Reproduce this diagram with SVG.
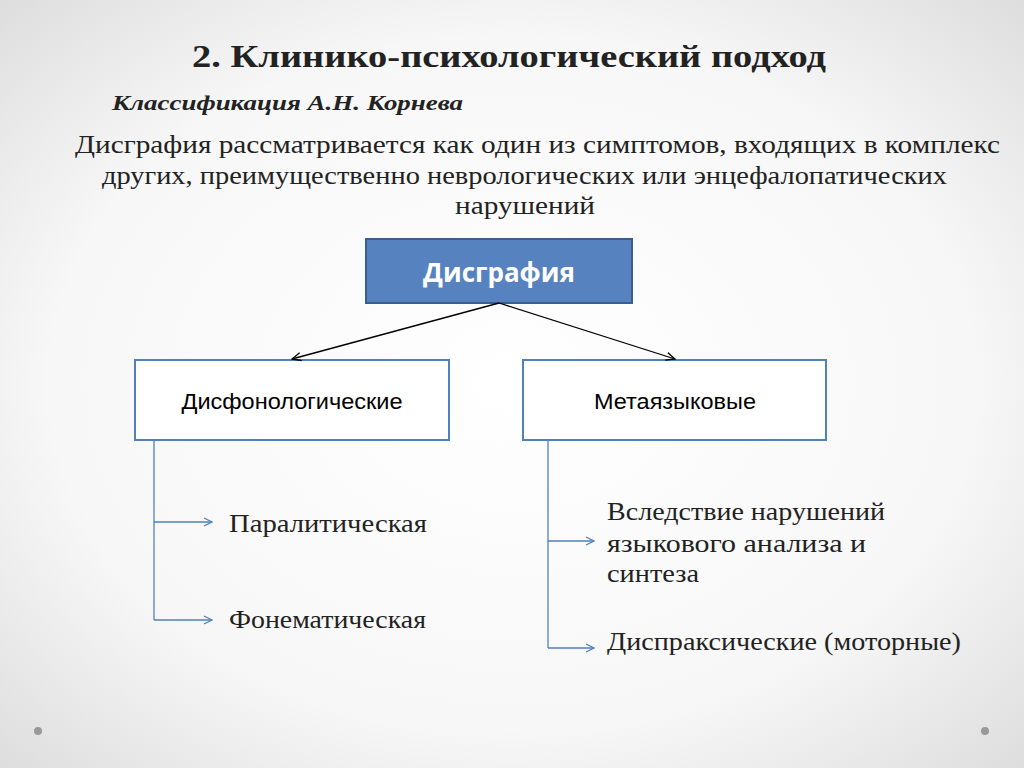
<svg xmlns="http://www.w3.org/2000/svg" width="1024" height="768" viewBox="0 0 1024 768">
<defs>
<radialGradient id="bg" cx="0.5" cy="0.5" r="0.75"><stop offset="0" stop-color="#ffffff"/><stop offset="0.6" stop-color="#f7f7f7"/><stop offset="1" stop-color="#d9d9d9"/></radialGradient>
<marker id="ab" markerWidth="10" markerHeight="10" refX="9" refY="5" orient="auto" markerUnits="userSpaceOnUse"><path d="M0,1 L9,5 L0,9" fill="none" stroke="#000" stroke-width="1.3"/></marker>
<marker id="abl" markerWidth="10" markerHeight="10" refX="9" refY="5" orient="auto" markerUnits="userSpaceOnUse"><path d="M1,1 L9,5 L1,9" fill="none" stroke="#4f81bd" stroke-width="1.3"/></marker>
</defs>
<style>
.ser{font-family:"Liberation Serif",serif;fill:#222}
.box{fill:#fff;stroke:#4f81bd;stroke-width:2}
.lbl{font-family:"Liberation Sans",sans-serif;font-size:22px;fill:#000;text-anchor:middle}
.bl{stroke:#4f81bd;stroke-width:1.3;fill:none}
</style>
<rect width="1024" height="768" fill="url(#bg)"/>
<g fill="#999"><circle cx="38" cy="731" r="4"/><circle cx="985" cy="731" r="4"/></g>
<text class="ser" x="192" y="67" font-size="32" font-weight="bold" textLength="634" lengthAdjust="spacingAndGlyphs">2. Клинико-психологический подход</text>
<text class="ser" x="112" y="110" font-size="22" font-weight="bold" font-style="italic" textLength="351" lengthAdjust="spacingAndGlyphs">Классификация А.Н. Корнева</text>
<g class="ser" font-size="25">
<text x="75" y="153" textLength="925" lengthAdjust="spacingAndGlyphs">Дисграфия рассматривается как один из симптомов, входящих в комплекс</text>
<text x="102" y="184" textLength="845" lengthAdjust="spacingAndGlyphs">других, преимущественно неврологических или энцефалопатических</text>
<text x="455" y="214" textLength="140" lengthAdjust="spacingAndGlyphs">нарушений</text>
</g>
<g id="n-root"><rect x="366" y="239" width="266" height="64" fill="#5683c0" stroke="#3a5f8f" stroke-width="2"/><text x="499" y="282" font-family="'Open Sans','Liberation Sans',sans-serif" font-weight="bold" font-size="26" fill="#fff" text-anchor="middle">Дисграфия</text></g>
<g id="n-left"><rect class="box" x="135" y="360" width="314" height="80"/><text class="lbl" x="292" y="409" textLength="221" lengthAdjust="spacingAndGlyphs">Дисфонологические</text></g>
<g id="n-right"><rect class="box" x="523" y="360" width="303" height="80"/><text class="lbl" x="675" y="409" textLength="162" lengthAdjust="spacingAndGlyphs">Метаязыковые</text></g>
<g id="connectors">
<line x1="499" y1="303" x2="292" y2="359" stroke="#000" stroke-width="1.3" marker-end="url(#ab)"/>
<line x1="499" y1="303" x2="675" y2="359" stroke="#000" stroke-width="1.3" marker-end="url(#ab)"/>
<path class="bl" d="M154,440 V620"/>
<line class="bl" x1="154" y1="522" x2="212" y2="522" marker-end="url(#abl)"/>
<line class="bl" x1="154" y1="620" x2="212" y2="620" marker-end="url(#abl)"/>
<path class="bl" d="M548,440 V648"/>
<line class="bl" x1="548" y1="541" x2="594" y2="541" marker-end="url(#abl)"/>
<line class="bl" x1="548" y1="648" x2="594" y2="648" marker-end="url(#abl)"/>
</g>
<g class="ser" font-size="25">
<g id="n-par"><text x="229" y="532" textLength="198" lengthAdjust="spacingAndGlyphs">Паралитическая</text></g>
<g id="n-fon"><text x="229" y="628" textLength="197" lengthAdjust="spacingAndGlyphs">Фонематическая</text></g>
<g id="n-lang"><text x="607" y="520" textLength="278" lengthAdjust="spacingAndGlyphs">Вследствие нарушений</text><text x="607" y="552" textLength="259" lengthAdjust="spacingAndGlyphs">языкового анализа и</text><text x="607" y="582" textLength="92" lengthAdjust="spacingAndGlyphs">синтеза</text></g>
<g id="n-disp"><text x="607" y="650" textLength="354" lengthAdjust="spacingAndGlyphs">Диспраксические (моторные)</text></g>
</g>
</svg>
